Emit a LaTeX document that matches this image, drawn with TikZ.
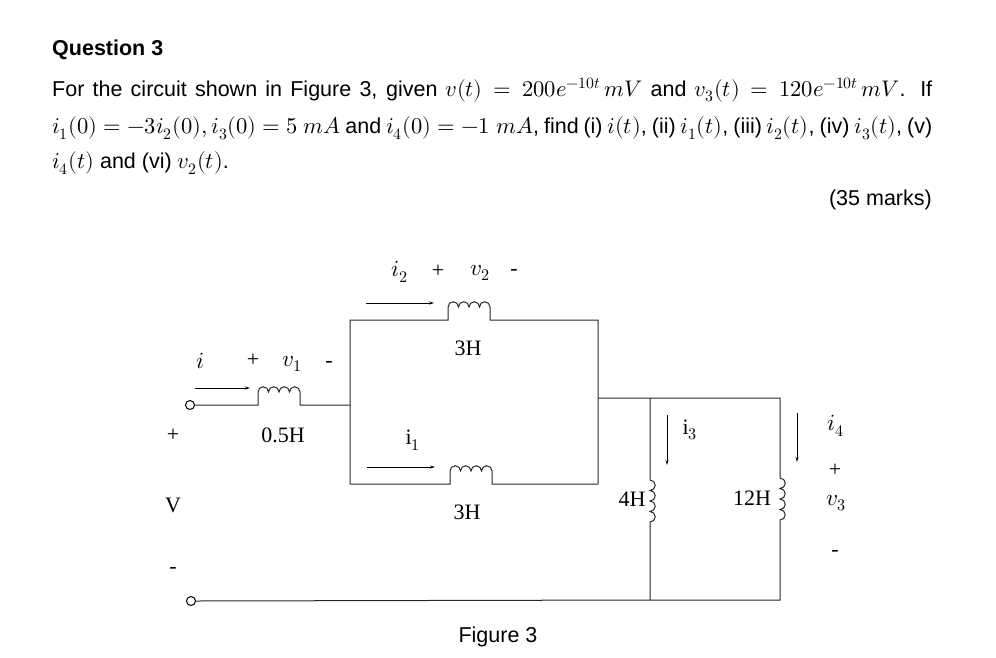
\documentclass[tikz,border=0pt]{standalone}
\usepackage{fontspec}
\usepackage{unicode-math}
\setmathfont[Scale=1.05]{Latin Modern Math}
\setmainfont{Liberation Sans}
\newfontfamily\serif{Liberation Serif}
\usetikzlibrary{arrows.meta}
\begin{document}
\begin{tikzpicture}[x=1pt,y=-1pt,
  wire/.style={line width=1pt,black!85},
  cur/.style={line width=0.8pt,-{Stealth[length=5pt,width=3pt]}},
  txt/.style={font=\fontsize{21.5}{24}\selectfont,inner sep=0},
  lab/.style={font=\fontsize{22}{24}\selectfont\serif,inner sep=0},
  term/.style={circle,draw,line width=1pt,fill=white,inner sep=0,minimum size=9pt}]
\useasboundingbox (0,0) rectangle (996,657);
% header
\node[txt,anchor=west,font=\fontsize{21.5}{24}\selectfont\bfseries] (q) at (52,50) {Question 3};
\node[txt,anchor=west] (l1) at (52,90) {\makebox[880pt][s]{For the circuit shown in Figure 3, given $v(t)=200e^{-10t}\,mV$ and $v_3(t)=120e^{-10t}\,mV$. If}};
\node[txt,anchor=west] (l2) at (52,128) {\makebox[880pt][s]{$i_1(0)=-3i_2(0), i_3(0)=5\;mA$ and $i_4(0)=-1\;mA$, find (i) $i(t)$, (ii) $i_1(t)$, (iii) $i_2(t)$, (iv) $i_3(t)$, (v)}};
\node[txt,anchor=west] (l3) at (52,163) {$i_4(t)$ and (vi) $v_2(t)$.};
\node[txt,anchor=east] (mk) at (932,200) {(35 marks)};
\node[txt] (fig) at (498,637) {Figure 3};
% coordinates
\coordinate (A) at (350,405); \coordinate (Atop) at (350,320); \coordinate (Abot) at (350,484);
\coordinate (B) at (598,398); \coordinate (Btop) at (598,320); \coordinate (Bbot) at (598,484);
\coordinate (C) at (650,398); \coordinate (D) at (780,398);
\coordinate (Cb) at (650,600); \coordinate (Db) at (780,600);
% terminals and wires
\draw[wire] (195,405) -- (258,405) -- (258,392)
  arc[start angle=180,end angle=360,radius=5.25] arc[start angle=180,end angle=360,radius=5.25]
  arc[start angle=180,end angle=360,radius=5.25] arc[start angle=180,end angle=360,radius=5.25]
  -- (300,405) -- (A);
\draw[wire] (Abot) -- (Atop) -- (448,320) -- (448,307)
  arc[start angle=180,end angle=360,radius=5.25] arc[start angle=180,end angle=360,radius=5.25]
  arc[start angle=180,end angle=360,radius=5.25] arc[start angle=180,end angle=360,radius=5.25]
  -- (490,320) -- (Btop) -- (Bbot);
\draw[wire] (Abot) -- (450,484) -- (450,471)
  arc[start angle=180,end angle=360,radius=5.25] arc[start angle=180,end angle=360,radius=5.25]
  arc[start angle=180,end angle=360,radius=5.25] arc[start angle=180,end angle=360,radius=5.25]
  -- (492,484) -- (Bbot);
\draw[wire] (B) -- (C) -- (D) -- (780,478)
  arc[start angle=-90,end angle=90,radius=5.25] arc[start angle=-90,end angle=90,radius=5.25]
  arc[start angle=-90,end angle=90,radius=5.25] arc[start angle=-90,end angle=90,radius=5.25]
  -- (Db) -- (Cb) -- (195,601);
\draw[wire] (C) -- (650,480)
  arc[start angle=-90,end angle=90,radius=5.25] arc[start angle=-90,end angle=90,radius=5.25]
  arc[start angle=-90,end angle=90,radius=5.25] arc[start angle=-90,end angle=90,radius=5.25]
  -- (Cb);
\node[term] (t1) at (190,405) {};
\node[term] (t2) at (191,601) {};
% current arrows
\coordinate (ia) at (195,388); \coordinate (ib) at (250,388);
\draw[cur] (ia) -- (ib);
\coordinate (i2a) at (366,303); \coordinate (i2b) at (434,303);
\draw[cur] (i2a) -- (i2b);
\coordinate (i1a) at (367,467); \coordinate (i1b) at (435,467);
\draw[cur] (i1a) -- (i1b);
\coordinate (i3a) at (667,415); \coordinate (i3b) at (667,465);
\draw[cur] (i3a) -- (i3b);
\coordinate (i4a) at (797,413); \coordinate (i4b) at (797,462);
\draw[cur] (i4a) -- (i4b);
% labels
\node[lab] (pl) at (173,435) {+};
\node[lab] (vl) at (173,505) {V};
\node[lab] (ml) at (173,570) {-};
\node[lab] (il) at (200,361) {$i$};
\node[lab] (p1) at (253,360) {+};
\node[lab] (v1) at (292,364) {$v_1$};
\node[lab] (m1) at (329,364) {-};
\node[lab] (h05) at (283,435) {0.5H};
\node[lab] (i2) at (400,272) {$i_2$};
\node[lab] (p2) at (438,271) {+};
\node[lab] (v2) at (480,273) {$v_2$};
\node[lab] (m2) at (514,272) {-};
\node[lab] (h3a) at (468,348) {3H};
\node[lab] (i1) at (413,440) {i$_1$};
\node[lab] (h3b) at (467,512) {3H};
\node[lab] (h4) at (632,499) {4H};
\node[lab] (h12) at (752,498) {12H};
\node[lab] (i3) at (690,430) {i$_3$};
\node[lab] (i4) at (836,426) {$i_4$};
\node[lab] (p3) at (835,470) {+};
\node[lab] (v3) at (836,503) {$v_3$};
\node[lab] (m3) at (835,553) {-};
\end{tikzpicture}
\end{document}
